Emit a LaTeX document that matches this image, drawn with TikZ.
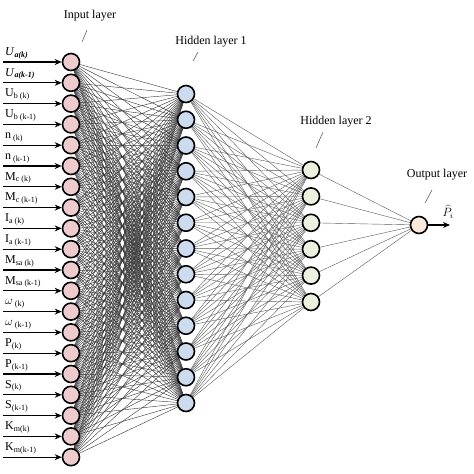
\documentclass[tikz,border=0pt]{standalone}
\usepackage{fontspec}
\setmainfont{Liberation Serif}
\usetikzlibrary{arrows.meta}
\pgfdeclarelayer{background}
\pgfsetlayers{background,main}
\definecolor{inpc}{RGB}{238,204,206}
\definecolor{hidac}{RGB}{204,219,238}
\definecolor{hidbc}{RGB}{236,240,222}
\definecolor{outc}{RGB}{252,234,220}
\newcommand{\sbs}[1]{\textsubscript{#1}}
\begin{document}
\begin{tikzpicture}[x=1pt,y=-1pt,
  neuron/.style={circle,draw=black,line width=1.6pt,minimum size=17pt,inner sep=0pt},
  inp/.style={neuron,fill=inpc},
  hidA/.style={neuron,fill=hidac},
  hidB/.style={neuron,fill=hidbc},
  outn/.style={neuron,fill=outc},
  link/.style={black!80,line width=0.4pt},
  linkB/.style={black!65,line width=0.4pt},
  inarrow/.style={-{Stealth[length=7pt,width=6pt]},line width=1.3pt},
  tick/.style={line width=0.5pt,black!70},
  title/.style={font=\fontsize{12}{12}\selectfont},
  lab/.style={anchor=south west,inner sep=0pt,font=\fontsize{12}{12}\selectfont}]
\useasboundingbox (0,0) rectangle (474,474);
% input layer
\foreach \i in {0,...,19}{
  \node[inp] (I\i) at (71,{62+20.8*\i}) {};
  \coordinate (S\i) at (3,{62+20.8*\i});
  \draw[inarrow] (S\i) -- (I\i);
}
% hidden layer 1
\foreach \j in {0,...,12}{
  \node[hidA] (H\j) at (186,{94+25.75*\j}) {};
}
% hidden layer 2
\foreach \k in {0,...,5}{
  \node[hidB] (G\k) at (311,{170+26.4*\k}) {};
}
% output
\node[outn] (O) at (419,225) {};
\coordinate (OE) at (450,225);
\draw[inarrow] (O) -- (OE);
\node[inner sep=0pt,font=\fontsize{12}{12}\selectfont] (P) at (448,212) {$\widehat{P}_i$};
% connections
\begin{pgfonlayer}{background}
\foreach \i in {0,...,19}{\foreach \j in {0,...,12}{\draw[link] (I\i.center) -- (H\j.center);}}
\foreach \j in {0,...,12}{\foreach \k in {0,...,5}{\draw[linkB] (H\j.center) -- (G\k.center);}}
\foreach \k in {0,...,5}{\draw[linkB] (G\k.center) -- (O.center);}
\end{pgfonlayer}
% input labels
\node[lab] (L0) at (5,{62+20.8*0-3}) {\textit{U}\sbs{\textit{\textbf{a(k)}}}};
\node[lab] (L1) at (5,{62+20.8*1-3}) {\textit{U}\sbs{\textit{\textbf{a(k-1)}}}};
\node[lab] (L2) at (5,{62+20.8*2-3}) {U\sbs{b (k)}};
\node[lab] (L3) at (5,{62+20.8*3-3}) {U\sbs{b (k-1)}};
\node[lab] (L4) at (5,{62+20.8*4-3}) {n\sbs{ (k)}};
\node[lab] (L5) at (5,{62+20.8*5-3}) {n\sbs{ (k-1)}};
\node[lab] (L6) at (5,{62+20.8*6-3}) {M\sbs{c (k)}};
\node[lab] (L7) at (5,{62+20.8*7-3}) {M\sbs{c (k-1)}};
\node[lab] (L8) at (5,{62+20.8*8-3}) {I\sbs{a (k)}};
\node[lab] (L9) at (5,{62+20.8*9-3}) {I\sbs{a (k-1)}};
\node[lab] (L10) at (5,{62+20.8*10-3}) {M\sbs{sa (k)}};
\node[lab] (L11) at (5,{62+20.8*11-3}) {M\sbs{sa (k-1)}};
\node[lab] (L12) at (5,{62+20.8*12-3}) {$\omega$\sbs{ (k)}};
\node[lab] (L13) at (5,{62+20.8*13-3}) {$\omega$\sbs{ (k-1)}};
\node[lab] (L14) at (5,{62+20.8*14-3}) {P\sbs{(k)}};
\node[lab] (L15) at (5,{62+20.8*15-3}) {P\sbs{(k-1)}};
\node[lab] (L16) at (5,{62+20.8*16-3}) {S\sbs{(k)}};
\node[lab] (L17) at (5,{62+20.8*17-3}) {S\sbs{(k-1)}};
\node[lab] (L18) at (5,{62+20.8*18-3}) {K\sbs{m(k)}};
\node[lab] (L19) at (5,{62+20.8*19-3}) {K\sbs{m(k-1)}};
% layer titles
\node[title] (T1) at (90,16) {Input layer};
\node[title] (T2) at (211,42) {Hidden layer 1};
\node[title] (T3) at (336,122) {Hidden layer 2};
\node[title] (T4) at (437,175) {Output layer};
\coordinate (a1) at (87,30); \coordinate (b1) at (82,42);
\coordinate (a2) at (198,52); \coordinate (b2) at (193,61);
\coordinate (a3) at (323,132); \coordinate (b3) at (316,148);
\coordinate (a4) at (432,190); \coordinate (b4) at (425,203);
\draw[tick] (a1) -- (b1);
\draw[tick] (a2) -- (b2);
\draw[tick] (a3) -- (b3);
\draw[tick] (a4) -- (b4);
\end{tikzpicture}
\end{document}
